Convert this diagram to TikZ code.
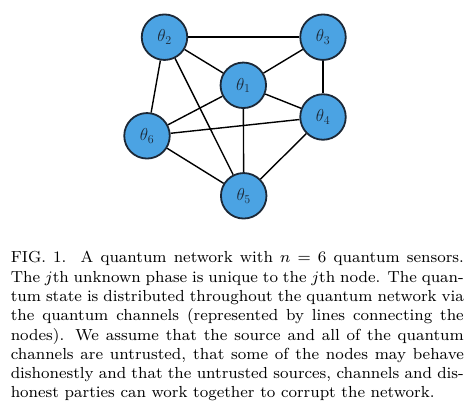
\documentclass[tikz,border=0pt]{standalone}
\usepackage{amsmath}
\definecolor{sensorblue}{HTML}{4BA3E3}
\definecolor{sensorline}{HTML}{1C2836}
\begin{document}
\begin{tikzpicture}[x=1pt, y=-1pt, thick,
		sensor node/.style={circle,draw=sensorline,line width=1.8pt,fill=sensorblue,minimum size=45.5pt,inner sep=0pt,
			text=sensorline,font=\fontsize{18}{20}\selectfont}]
			\useasboundingbox (0,0) rectangle (474,414);
			
			\node[sensor node] (1) at (243.3,85.3) {$\theta_1$};
			\node[sensor node] (2) at (164.5,37.2) {$\theta_2$};
			\node[sensor node] (3) at (323,37.2) {$\theta_3$};
			\node[sensor node] (4) at (323,117) {$\theta_4$};
			\node[sensor node] (5) at (243.7,195.8) {$\theta_5$};
			\node[sensor node] (6) at (147,135.8) {$\theta_6$};
			
			% quantum channels
			\path[draw, line width=1.4pt]
			(2)
			edge (3)
			edge (1)
			edge (6)
			edge (5)
			
			(3)
			edge (1)
			edge (4)
			
			(1)
			edge (4)
			edge (6)
			edge (5)
			
			(4)
			edge (6)
			edge (5)
			
			(6)
			edge (5)
			;
			
			% caption
			\node[anchor=north west, inner sep=0pt, scale=2, text width=226.5pt, align=justify,
				font=\fontsize{8}{9.65}\selectfont] (caption) at (10,250.6)
			{\tolerance=10000\hyphenpenalty=10000\emergencystretch=20pt
				FIG.~1.\ \ A quantum network with $n = 6$ quantum sensors.\linebreak
				The $j$th unknown phase is unique to the $j$th node. The quan-\linebreak
				tum state is distributed throughout the quantum network via\linebreak
				the quantum channels (represented by lines connecting the\linebreak
				nodes). We assume that the source and all of the quantum\linebreak
				channels are untrusted, that some of the nodes may behave\linebreak
				dishonestly and that the untrusted sources, channels and dis-\linebreak
				honest parties can work together to corrupt the network.};
\end{tikzpicture}
\end{document}
